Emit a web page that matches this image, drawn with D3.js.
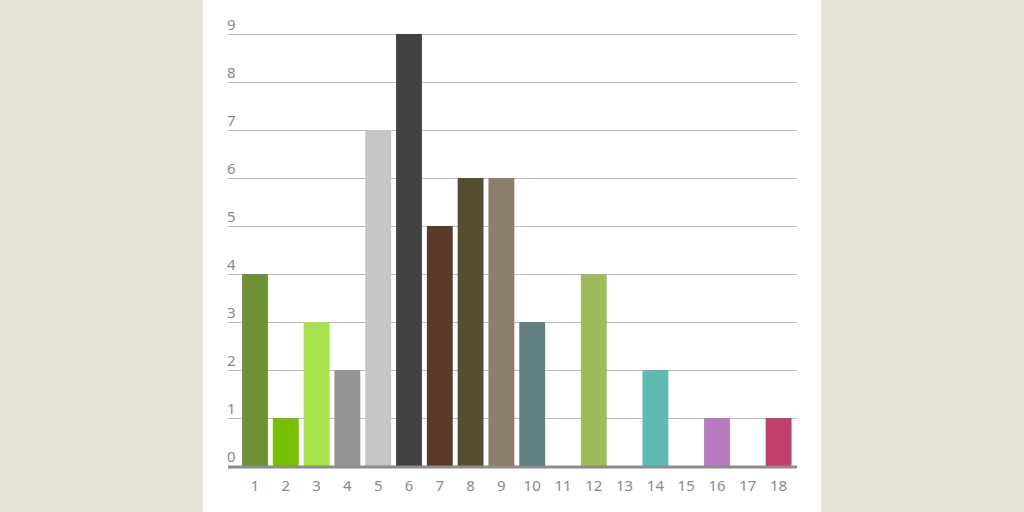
<!DOCTYPE html>
<html><head><meta charset="utf-8">
<script src="https://cdn.jsdelivr.net/npm/d3@7"></script>
<style>
body{margin:0;width:1024px;height:512px;overflow:hidden;background:#e6e4d8;}
svg{display:block;}
</style></head>
<body><div id="chart"></div>
<script>
var categories = ['1','2','3','4','5','6','7','8','9','10','11','12','13','14','15','16','17','18'];
var values = [4,1,3,2,7,9,5,6,6,3,0,4,0,2,0,1,0,1];
var colors = ['#6e9138','#78c000','#a8e24a','#959595','#c5c5c5','#424242','#5c3a2a','#554e30','#8b7e6c',
  '#627f82','#ffffff','#9fbb5c','#ffffff','#5fbab2','#ffffff','#b87bbf','#ffffff','#c0406b'];
var yTicks = [0,1,2,3,4,5,6,7,8,9];

var svg = d3.select('#chart').append('svg').attr('width',1024).attr('height',512);

svg.append('rect').attr('x',203).attr('y',0).attr('width',618).attr('height',512).attr('fill','#ffffff');

var x = d3.scaleBand().domain(categories).range([239.6,794]).paddingInner(0.16).paddingOuter(0.08);
var y = d3.scaleLinear().domain([0,9]).range([466,34]);

var grid = svg.append('g');
grid.selectAll('line').data(yTicks).enter().append('line')
  .attr('x1',228).attr('x2',797)
  .attr('y1',function(d){return y(d)+0.5;}).attr('y2',function(d){return y(d)+0.5;})
  .attr('stroke','#bdbdbd').attr('stroke-width',1);
grid.selectAll('text').data(yTicks).enter().append('text')
  .attr('x',227).attr('y',function(d){return y(d)-4;})
  .attr('font-family','Noto Sans').attr('font-size',15).attr('fill','#8a8a8a')
  .text(function(d){return d;});

svg.append('g').selectAll('rect').data(values).enter().append('rect')
  .attr('x',function(d,i){return x(categories[i]);})
  .attr('width',x.bandwidth())
  .attr('y',function(d){return y(d);})
  .attr('height',function(d){return y(0)-y(d);})
  .attr('fill',function(d,i){return colors[i];});

svg.append('line').attr('x1',228).attr('x2',797).attr('y1',467).attr('y2',467)
  .attr('stroke','#8c8c8c').attr('stroke-width',3);

svg.append('g').selectAll('text').data(categories).enter().append('text')
  .attr('x',function(d){return x(d)+x.bandwidth()/2;}).attr('y',491)
  .attr('text-anchor','middle')
  .attr('font-family','Noto Sans').attr('font-size',15).attr('fill','#8a8a8a')
  .text(function(d){return d;});
</script>
</body></html>
